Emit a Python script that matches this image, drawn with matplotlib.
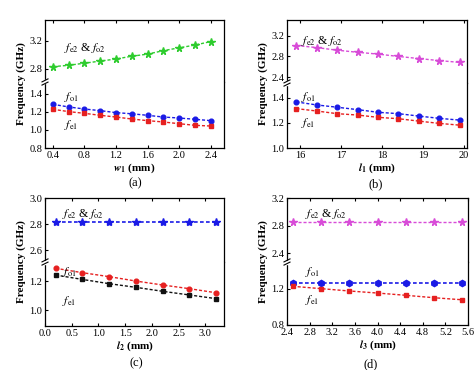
import numpy as np
import matplotlib
matplotlib.use("Agg")
import matplotlib.pyplot as plt
from matplotlib.lines import Line2D

plt.rcParams['font.family'] = ['Liberation Serif', 'DejaVu Serif']
plt.rcParams['mathtext.fontset'] = 'stix'
plt.rcParams['font.size'] = 7

# ---- data ----
# (a) w1 sweep
w1 = [0.4, 0.6, 0.8, 1.0, 1.2, 1.4, 1.6, 1.8, 2.0, 2.2, 2.4]
a_f2 = [2.83, 2.85, 2.88, 2.91, 2.94, 2.98, 3.01, 3.06, 3.10, 3.14, 3.19]
a_fo1 = [1.285, 1.256, 1.233, 1.215, 1.193, 1.180, 1.163, 1.144, 1.133, 1.119, 1.104]
a_fe1 = [1.230, 1.204, 1.185, 1.163, 1.144, 1.122, 1.104, 1.089, 1.070, 1.052, 1.044]

# (b) l1 sweep
l1 = [15.9, 16.4, 16.9, 17.4, 17.9, 18.4, 18.9, 19.4, 19.9]
b_f2 = [3.01, 2.97, 2.92, 2.88, 2.845, 2.80, 2.76, 2.72, 2.686]
b_fo1 = [1.365, 1.341, 1.323, 1.304, 1.283, 1.272, 1.253, 1.235, 1.221]
b_fe1 = [1.312, 1.293, 1.272, 1.261, 1.243, 1.232, 1.213, 1.195, 1.181]

# (c) l2 sweep
l2 = [0.2, 0.7, 1.2, 1.7, 2.2, 2.7, 3.2]
c_f2 = [2.82, 2.82, 2.82, 2.82, 2.82, 2.82, 2.82]
c_fo1 = [1.287, 1.257, 1.230, 1.200, 1.173, 1.148, 1.120]
c_fe1 = [1.241, 1.211, 1.182, 1.157, 1.130, 1.105, 1.080]

# (d) l3 sweep
l3 = [2.5, 3.0, 3.5, 4.0, 4.5, 5.0, 5.5]
d_f2 = [2.85, 2.85, 2.85, 2.85, 2.85, 2.85, 2.85]
d_fo1 = [1.27, 1.27, 1.27, 1.27, 1.27, 1.27, 1.27]
d_fe1 = [1.230, 1.204, 1.178, 1.155, 1.130, 1.103, 1.080]

GREEN = '#2ecc2e'
BLUE = '#1a1ae6'
RED = '#e62020'
MAG = '#d84cd8'
BLACK = '#111111'
LS = (0, (2.2, 1.4))

fig = plt.figure(figsize=(4.74, 3.70), dpi=100)
W, H = 474.0, 370.0


def panel(left, right, top, brk, bottom, xlim, xticks, up_lim, up_ticks,
          lo_lim, lo_ticks, xlabel, fmt):
    l, r = left / W, right / W
    ax_up = fig.add_axes([l, 1 - brk / H, r - l, (brk - top) / H])
    ax_lo = fig.add_axes([l, 1 - bottom / H, r - l, (bottom - brk) / H],
                         sharex=ax_up)
    ax_up.spines['bottom'].set_visible(False)
    ax_lo.spines['top'].set_visible(False)
    for ax in (ax_up, ax_lo):
        for s in ax.spines.values():
            s.set_linewidth(0.9)
        ax.tick_params(direction='in', length=2.5, width=0.8, pad=2,
                       labelsize=7.5)
    ax_up.tick_params(axis='x', bottom=False, labelbottom=False, top=True)
    ax_lo.tick_params(axis='x', top=False)
    ax_up.set_xlim(*xlim)
    ax_up.set_xticks(xticks)
    ax_lo.set_xticklabels([fmt.format(v) for v in xticks])
    ax_up.set_ylim(*up_lim)
    ax_up.set_yticks(up_ticks)
    ax_up.set_yticklabels(['{:.1f}'.format(v) for v in up_ticks])
    ax_lo.set_ylim(*lo_lim)
    ax_lo.set_yticks(lo_ticks)
    ax_lo.set_yticklabels(['{:.1f}'.format(v) for v in lo_ticks])
    ax_lo.set_xlabel(xlabel, fontsize=8, fontweight='bold', labelpad=1)
    # break mark on the left spine
    bx = left / W
    by = 1 - brk / H
    fig.add_artist(plt.Rectangle((bx - 2 / W, by - 1.5 / H), 4 / W, 3 / H,
                                 color='white', transform=fig.transFigure,
                                 zorder=10))
    for d in (-1.6, 1.6):
        fig.add_artist(Line2D([bx - 3 / W, bx + 3 / W],
                              [by + (d - 1.5) / H, by + (d + 1.5) / H],
                              color='black', lw=0.8,
                              transform=fig.transFigure, zorder=11))
    fig.text((left - 24) / W, 1 - (top + bottom) / 2 / H, 'Frequency (GHz)',
             rotation=90, ha='center', va='center', fontsize=8,
             fontweight='bold')
    return ax_up, ax_lo


def labels(x, y2, y1o, y1e):
    fig.text(x / W, 1 - y2 / H, r'$f_{\rm e2}$ & $f_{\rm o2}$', fontsize=8.5,
             va='center')
    fig.text(x / W, 1 - y1o / H, r'$f_{\rm o1}$', fontsize=8.5, va='center')
    fig.text(x / W, 1 - y1e / H, r'$f_{\rm e1}$', fontsize=8.5, va='center')


# (a)
up, lo = panel(45, 224, 20, 82, 148, (0.30, 2.57), [0.4, 0.8, 1.2, 1.6, 2.0, 2.4],
               (2.61, 3.5), [2.8, 3.2], (0.8, 1.533), [0.8, 1.0, 1.2, 1.4],
               r'$\mathbfit{w}_\mathbf{1}$ (mm)', '{:.1f}')
up.plot(w1, a_f2, ls=LS, lw=1, color=GREEN, marker='*', ms=5.5)
lo.plot(w1, a_fo1, ls=LS, lw=1, color=BLUE, marker='o', ms=3.4)
lo.plot(w1, a_fe1, ls=LS, lw=1, color=RED, marker='s', ms=3.2)
labels(64, 48, 97, 125)
fig.text(135 / W, 1 - 183 / H, '(a)', ha='center', va='center', fontsize=9)

# (b)
up, lo = panel(287, 467, 20, 83, 148, (15.67, 20.08), [16, 17, 18, 19, 20],
               (2.29, 3.5), [2.4, 2.8, 3.2], (1.0, 1.515), [1.0, 1.2, 1.4],
               r'$\mathbfit{l}_\mathbf{1}$ (mm)', '{:.0f}')
up.plot(l1, b_f2, ls=LS, lw=1, color=MAG, marker='*', ms=5.5)
lo.plot(l1, b_fo1, ls=LS, lw=1, color=BLUE, marker='o', ms=3.4)
lo.plot(l1, b_fe1, ls=LS, lw=1, color=RED, marker='s', ms=3.2)
labels(301, 41, 97, 123)
fig.text(376 / W, 1 - 184 / H, '(b)', ha='center', va='center', fontsize=9)

# (c)
up, lo = panel(45, 224, 198, 262, 326, (0.0, 3.35), [0.0, 0.5, 1.0, 1.5, 2.0, 2.5, 3.0],
               (2.51, 3.0), [2.6, 2.8, 3.0], (0.893, 1.33), [1.0, 1.2],
               r'$\mathbfit{l}_\mathbf{2}$ (mm)', '{:.1f}')
up.plot(l2, c_f2, ls=LS, lw=1.2, color=BLUE, marker='*', ms=6)
lo.plot(l2, c_fo1, ls=LS, lw=1, color=RED, marker='o', ms=3.4)
lo.plot(l2, c_fe1, ls=LS, lw=1, color=BLACK, marker='s', ms=3.2)
labels(62, 214, 272, 301)
fig.text(136 / W, 1 - 363 / H, '(c)', ha='center', va='center', fontsize=9)

# (d)
up, lo = panel(287, 468, 198, 262, 325, (2.4, 5.6),
               [2.4, 2.8, 3.2, 3.6, 4.0, 4.4, 4.8, 5.2, 5.6],
               (2.27, 3.2), [2.4, 2.8, 3.2], (0.8, 1.5), [0.8, 1.2],
               r'$\mathbfit{l}_\mathbf{3}$ (mm)', '{:.1f}')
up.plot(l3, d_f2, ls=LS, lw=1, color=MAG, marker='*', ms=5.5)
lo.plot(l3, d_fo1, ls=LS, lw=1.2, color=BLUE, marker='h', ms=4.5)
lo.plot(l3, d_fe1, ls=LS, lw=1, color=RED, marker='s', ms=3.2)
labels(305, 214, 272, 300)
fig.text(371 / W, 1 - 364 / H, '(d)', ha='center', va='center', fontsize=9)

fig.savefig('out.png', dpi=100)
